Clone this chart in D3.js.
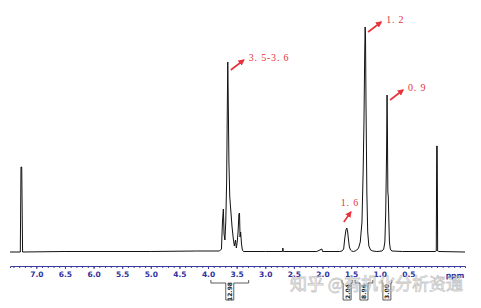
<!DOCTYPE html>
<html><head><meta charset="utf-8">
<script src="https://cdn.jsdelivr.net/npm/d3@7"></script>
<style>body{margin:0;background:#fff}svg{display:block}</style>
</head><body>
<script>
// spectrum trace: chemical shift (ppm) and intensity
const tracePpm = [7.46,7.28,7.268,7.262,7.255,7.24,6.5,5.0,4.2,3.80,3.765,3.748,3.732,3.72,3.705,3.69,3.675,3.662,3.655,3.648,3.635,3.62,3.60,3.58,3.56,3.54,3.52,3.505,3.49,3.475,3.46,3.45,3.44,3.43,3.415,3.40,3.38,3.0,2.70,2.692,2.685,2.67,2.10,2.01,2.0,1.99,1.70,1.66,1.63,1.61,1.59,1.575,1.56,1.545,1.53,1.51,1.49,1.46,1.43,1.40,1.37,1.34,1.31,1.29,1.275,1.262,1.255,1.248,1.24,1.225,1.21,1.19,1.16,1.12,1.05,0.96,0.93,0.91,0.895,0.88,0.872,0.865,0.858,0.85,0.84,0.83,0.815,0.79,0.6,0.03,0.012,0.004,-0.004,-0.012,-0.03,-0.49];
const traceInt = [0,0,85,85,85,0,0.5,0.5,1,1,3,30,43,18,12,30,70,150,190,160,90,55,40,25,14,6,12,4,10,20,38,39,15,20,8,2,0.5,0.5,0.5,4,0.5,0.5,0.5,3,0.5,0.5,0.5,1,3,14,22,24,20,12,5,2,1,0.5,1,2,4,10,30,80,130,200,225,215,150,60,20,6,2,1,0.5,1,3,10,40,100,157,120,60,55,30,10,3,1,0.5,0.5,1,106,106,1,0.5,0];

// axis ticks (ppm)
const majorTicks = [7.0,6.5,6.0,5.5,5.0,4.5,4.0,3.5,3.0,2.5,2.0,1.5,1.0,0.5];
const unitLabel = "ppm";

// peak annotations
const annLabels = ["3.5-3.6","1.2","0.9","1.6"];
const annPeakPpm = [3.655,1.255,0.872,1.575];
const annPeakInt = [180,218,150,28];

// integrals
const intFrom = [3.95,1.66,1.43,0.96];
const intTo = [3.29,1.48,1.12,0.79];
const intValues = ["12.98","2.04","8.96","3.00"];

const watermark = "知乎 @有机化分析资通";

const W = 481, H = 308;
const svg = d3.select("body").append("svg").attr("width", W).attr("height", H);

const x = d3.scaleLinear().domain([7.46, -0.49]).range([10, 465]);
const y = d3.scaleLinear().domain([0, 240]).range([252, 12]);

// spectrum
const pts = tracePpm.map((p, i) => [p, traceInt[i]]);
svg.append("path")
  .attr("d", d3.line().x(d => x(d[0])).y(d => y(d[1]))(pts))
  .attr("fill", "none").attr("stroke", "#111").attr("stroke-width", 1)
  .attr("stroke-linejoin", "round");

// axis
const axisY = 266;
const minorTicks = d3.range(74, -5, -1).map(v => v / 10);
const gMinor = svg.append("g").attr("transform", `translate(0,${axisY})`)
  .call(d3.axisBottom(x).tickValues(minorTicks).tickSize(2).tickFormat(""));
gMinor.select(".domain").attr("stroke", "#3a3aa0");
gMinor.selectAll(".tick line").attr("stroke", "#3a3aa0");

const gAxis = svg.append("g").attr("transform", `translate(0,${axisY})`)
  .call(d3.axisBottom(x).tickValues(majorTicks).tickSize(3).tickFormat(d3.format(".1f")));
gAxis.select(".domain").remove();
gAxis.selectAll(".tick line").attr("stroke", "#3a3aa0");
gAxis.selectAll(".tick text")
  .attr("font-family", "DejaVu Sans").attr("font-weight", "bold")
  .attr("font-size", 7.5).attr("fill", "#3030a0").attr("dy", "0.6em");
svg.append("text").attr("x", 455).attr("y", axisY + 12).attr("text-anchor", "middle")
  .attr("font-family", "DejaVu Sans").attr("font-weight", "bold")
  .attr("font-size", 7.5).attr("fill", "#3030a0").text(unitLabel);

// annotations
const red = "#e8323c";
svg.append("defs").append("marker").attr("id", "ah")
  .attr("viewBox", "0 0 10 10").attr("refX", 8).attr("refY", 5)
  .attr("markerWidth", 4).attr("markerHeight", 4).attr("orient", "auto")
  .append("path").attr("d", "M0,0L10,5L0,10z").attr("fill", red);
annLabels.forEach((t, i) => {
  const px = x(annPeakPpm[i]), py = y(annPeakInt[i]);
  const x0 = i === 3 ? px - 3 : px + 3, y0 = py - 2;
  const x1 = x0 + (i === 3 ? 7 : 13), y1 = py - 12;
  svg.append("line").attr("x1", x0).attr("y1", y0).attr("x2", x1).attr("y2", y1)
    .attr("stroke", red).attr("stroke-width", 1.6).attr("marker-end", "url(#ah)");
  svg.append("text").attr("x", i === 3 ? x0 - 3 : x1 + 5).attr("y", i === 3 ? y1 - 6 : y1 + 1)
    .attr("font-family", "Liberation Serif").attr("font-size", 10).attr("fill", red)
    .attr("letter-spacing", 0.8).text(t.replace(/\./g, ". "));
});

// integrals
intFrom.forEach((f, i) => {
  const xa = x(f), xb = x(intTo[i]), xm = (xa + xb) / 2;
  const g = svg.append("g").attr("stroke", "#333").attr("fill", "none").attr("stroke-width", 0.8);
  g.append("path").attr("d", `M${xa},280V283H${xm - 4}V300H${xm + 4}V283H${xb}V280`);
  svg.append("text").attr("transform", `translate(${xm + 2.5},${291.5}) rotate(-90)`)
    .attr("text-anchor", "middle").attr("font-family", "DejaVu Sans").attr("font-weight", "bold")
    .attr("font-size", 6).attr("fill", "#222").text(intValues[i]);
});

// watermark
svg.append("text").attr("x", 290).attr("y", 290)
  .attr("font-family", "Noto Sans CJK SC").attr("font-size", 17)
  .attr("fill", "rgba(255,255,255,0.5)").attr("stroke", "rgba(150,150,150,0.55)")
  .attr("stroke-width", 0.8).text(watermark);
</script>
</body></html>
